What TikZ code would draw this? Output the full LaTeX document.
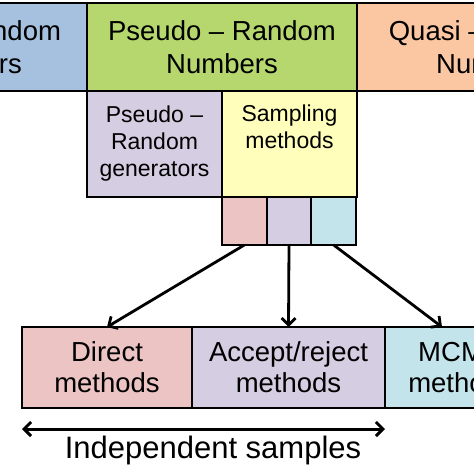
\documentclass[tikz,border=0pt]{standalone}
\usepackage{fontspec}
\setmainfont{Liberation Sans}
\usetikzlibrary{positioning, arrows.meta}
\definecolor{trueblue}{HTML}{A6C1E0}
\definecolor{pseudogreen}{HTML}{B6D76E}
\definecolor{quasiorange}{HTML}{FBC7A2}
\definecolor{genpurple}{HTML}{D5CDE1}
\definecolor{samplyellow}{HTML}{FFFFBB}
\definecolor{directpink}{HTML}{ECC4C4}
\definecolor{mcmccyan}{HTML}{C4E4EC}

\begin{document}
\begin{tikzpicture}[x=1pt, y=-1pt, >={Straight Barb[length=7pt,width=14pt]},
    box/.style={draw, line width=1.8pt, outer sep=0pt, inner sep=0pt, align=center},
    numbox/.style={box, minimum width=270pt, minimum height=88pt, font=\fontsize{27.5}{33}\selectfont},
    midbox/.style={box, minimum width=135pt, minimum height=106pt, font=\fontsize{23}{27}\selectfont},
    cell/.style={box, minimum width=44.67pt, minimum height=48pt},
    method/.style={box, minimum height=81pt, font=\fontsize{27.5}{31}\selectfont},
    link/.style={->, line width=2.8pt}]
    \useasboundingbox (0,0) rectangle (474,474);
    \clip (0,0) rectangle (474,474);

    % top row
    \node[numbox, fill=pseudogreen] (pr) at (222,47) {Pseudo – Random\\Numbers};
    \node[numbox, fill=trueblue, minimum width=242pt, left=0pt of pr] (tr) {True – Random\\Numbers};
    \node[numbox, fill=quasiorange, right=0pt of pr] (qr) {Quasi – Random\\Numbers};

    % pseudo-random details
    \node[midbox, fill=genpurple, below right=0pt and 0pt of pr.south west] (gen) {Pseudo –\\Random\\generators};
    \node[midbox, fill=samplyellow, right=0pt of gen] (samp) {};
    \node[anchor=north, align=center, inner sep=0pt, font=\fontsize{23}{27}\selectfont]
        (samptxt) at ([yshift=-14pt]samp.north) {Sampling\\methods};

    % three method cells
    \node[cell, fill=directpink, below right=0pt and 0pt of samp.south west] (c1) {};
    \node[cell, fill=genpurple, right=0pt of c1] (c2) {};
    \node[cell, fill=mcmccyan, right=0pt of c2] (c3) {};

    % methods
    \node[method, fill=directpink, minimum width=170pt, anchor=north west] (dir) at (22,327) {Direct\\methods};
    \node[method, fill=genpurple, minimum width=193pt, right=0pt of dir] (ar) {Accept/reject\\methods};
    \node[method, fill=mcmccyan, minimum width=152pt, right=0pt of ar] (mc) {MCMC\\methods};

    \draw[link] (c1.south) -- (dir.north);
    \draw[link] (c2.south) -- (ar.north);
    \draw[link] (c3.south) -- ([xshift=-19pt]mc.north);

    % independent samples
    \coordinate (l) at ([yshift=-21pt]dir.south west);
    \coordinate (r) at ([yshift=-21pt]ar.south east);
    \draw[<->, line width=3pt] (l) -- (r);
    \node[anchor=base, inner sep=0pt, font=\fontsize{31}{36}\selectfont] (ind) at (213,458) {Independent samples};
\end{tikzpicture}
\end{document}
